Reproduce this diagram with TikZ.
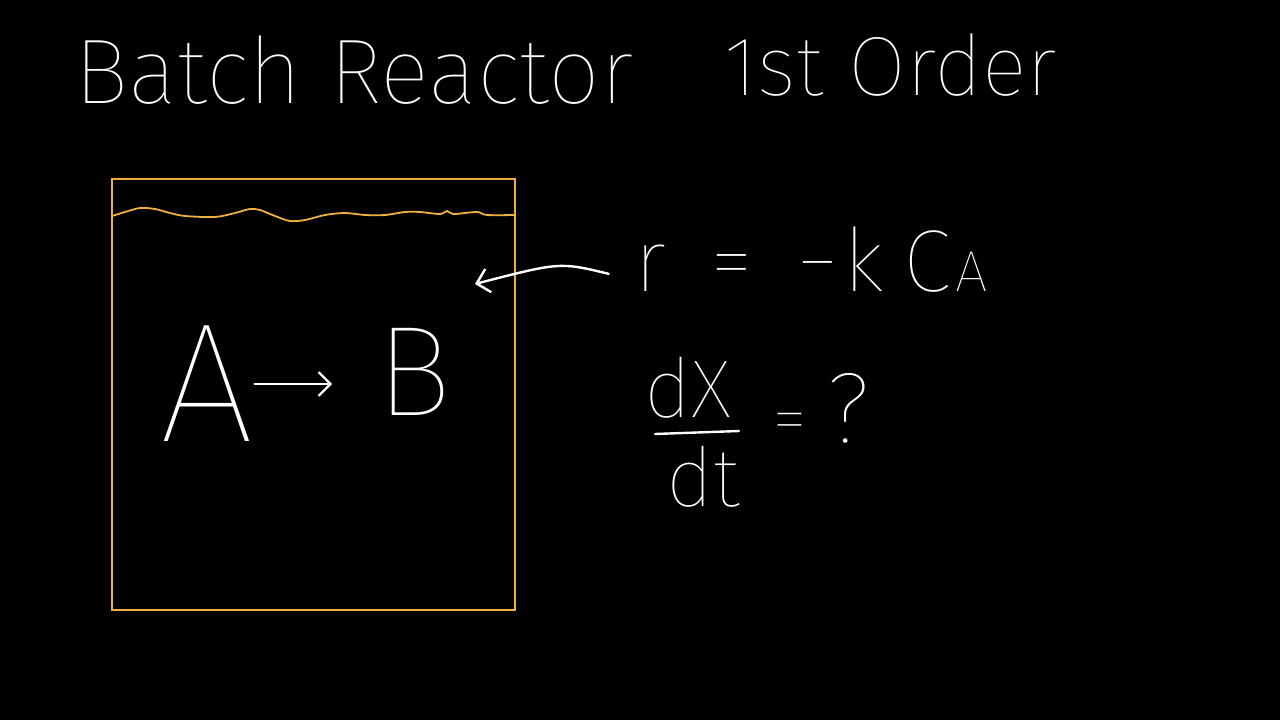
\documentclass[tikz,border=0pt]{standalone}
\usepackage{fontspec}
\setmainfont{Fira Sans}[UprightFont=* Thin]
\usetikzlibrary{arrows.meta, positioning, calc}
\definecolor{tankorange}{RGB}{240,176,64}

\begin{document}
\begin{tikzpicture}[
    x=1pt, y=-1pt,
    chalk/.style={text=white, inner sep=0pt},
    stroke/.style={draw=white, line width=2.4pt, line cap=round},
    tank/.style={draw=tankorange, line width=2pt, minimum width=403pt, minimum height=431pt},
    arrow/.style={stroke, -{Straight Barb[length=12pt, width=24pt, line width=2.4pt]}}
]
    % Blackboard
    \fill[black] (0,0) rectangle (1280,720);
    \useasboundingbox (0,0) rectangle (1280,720);

    % Title
    \node[chalk, font=\fontsize{92}{96}\selectfont] (title) at (354,70) {Batch Reactor};
    \node[chalk, font=\fontsize{84}{96}\selectfont] (order) at (891,65) {1st Order};

    % Reactor vessel and liquid level
    \node[tank] (vessel) at (313.5,394.5) {};
    \draw[tankorange, line width=1.8pt] plot[smooth] coordinates {
        (112,216) (125,212) (140,208) (155,209) (170,213) (185,216) (215,217)
        (235,213) (250,209) (260,210) (275,216) (290,221) (305,220) (325,215)
        (345,213) (365,215) (385,215) (405,212) (420,212) (440,214) (447,211)
        (453,214) (465,213) (478,212) (487,215) (515,215)};

    % Reaction inside the vessel
    \node[chalk, font=\fontsize{170}{170}\selectfont] (A) at (207,384) {A};
    \node[chalk, font=\fontsize{128}{128}\selectfont] (B) at (414,372) {B};
    \draw[arrow, shorten >=44pt] (A) -- (A -| B.west);

    % Rate law
    \node[chalk, anchor=west, font=\fontsize{88}{96}\selectfont] (rate) at (634,260)
        {r\hspace{0.5em}=\hspace{0.5em}−\hspace{0.05em}k\hspace{0.22em}C\hspace{0.05em}{\fontsize{58}{58}\selectfont A}};
    \coordinate (hit) at (475,284);
    \draw[arrow, shorten <=26pt] ([yshift=-20pt]rate.west) .. controls (560,262) .. (hit);

    % Conversion rate
    \node[chalk, font=\fontsize{82}{82}\selectfont] (dX) at (688,388) {dX};
    \node[chalk, font=\fontsize{82}{82}\selectfont] (dt) at (703,477) {dt};
    \draw[stroke] (655,434) -- (739,431);
    \node[chalk, font=\fontsize{72}{72}\selectfont] (eq) at (790,428) {=};
    \node[chalk, font=\fontsize{100}{100}\selectfont] (query) at (849,408) {?};
\end{tikzpicture}
\end{document}
